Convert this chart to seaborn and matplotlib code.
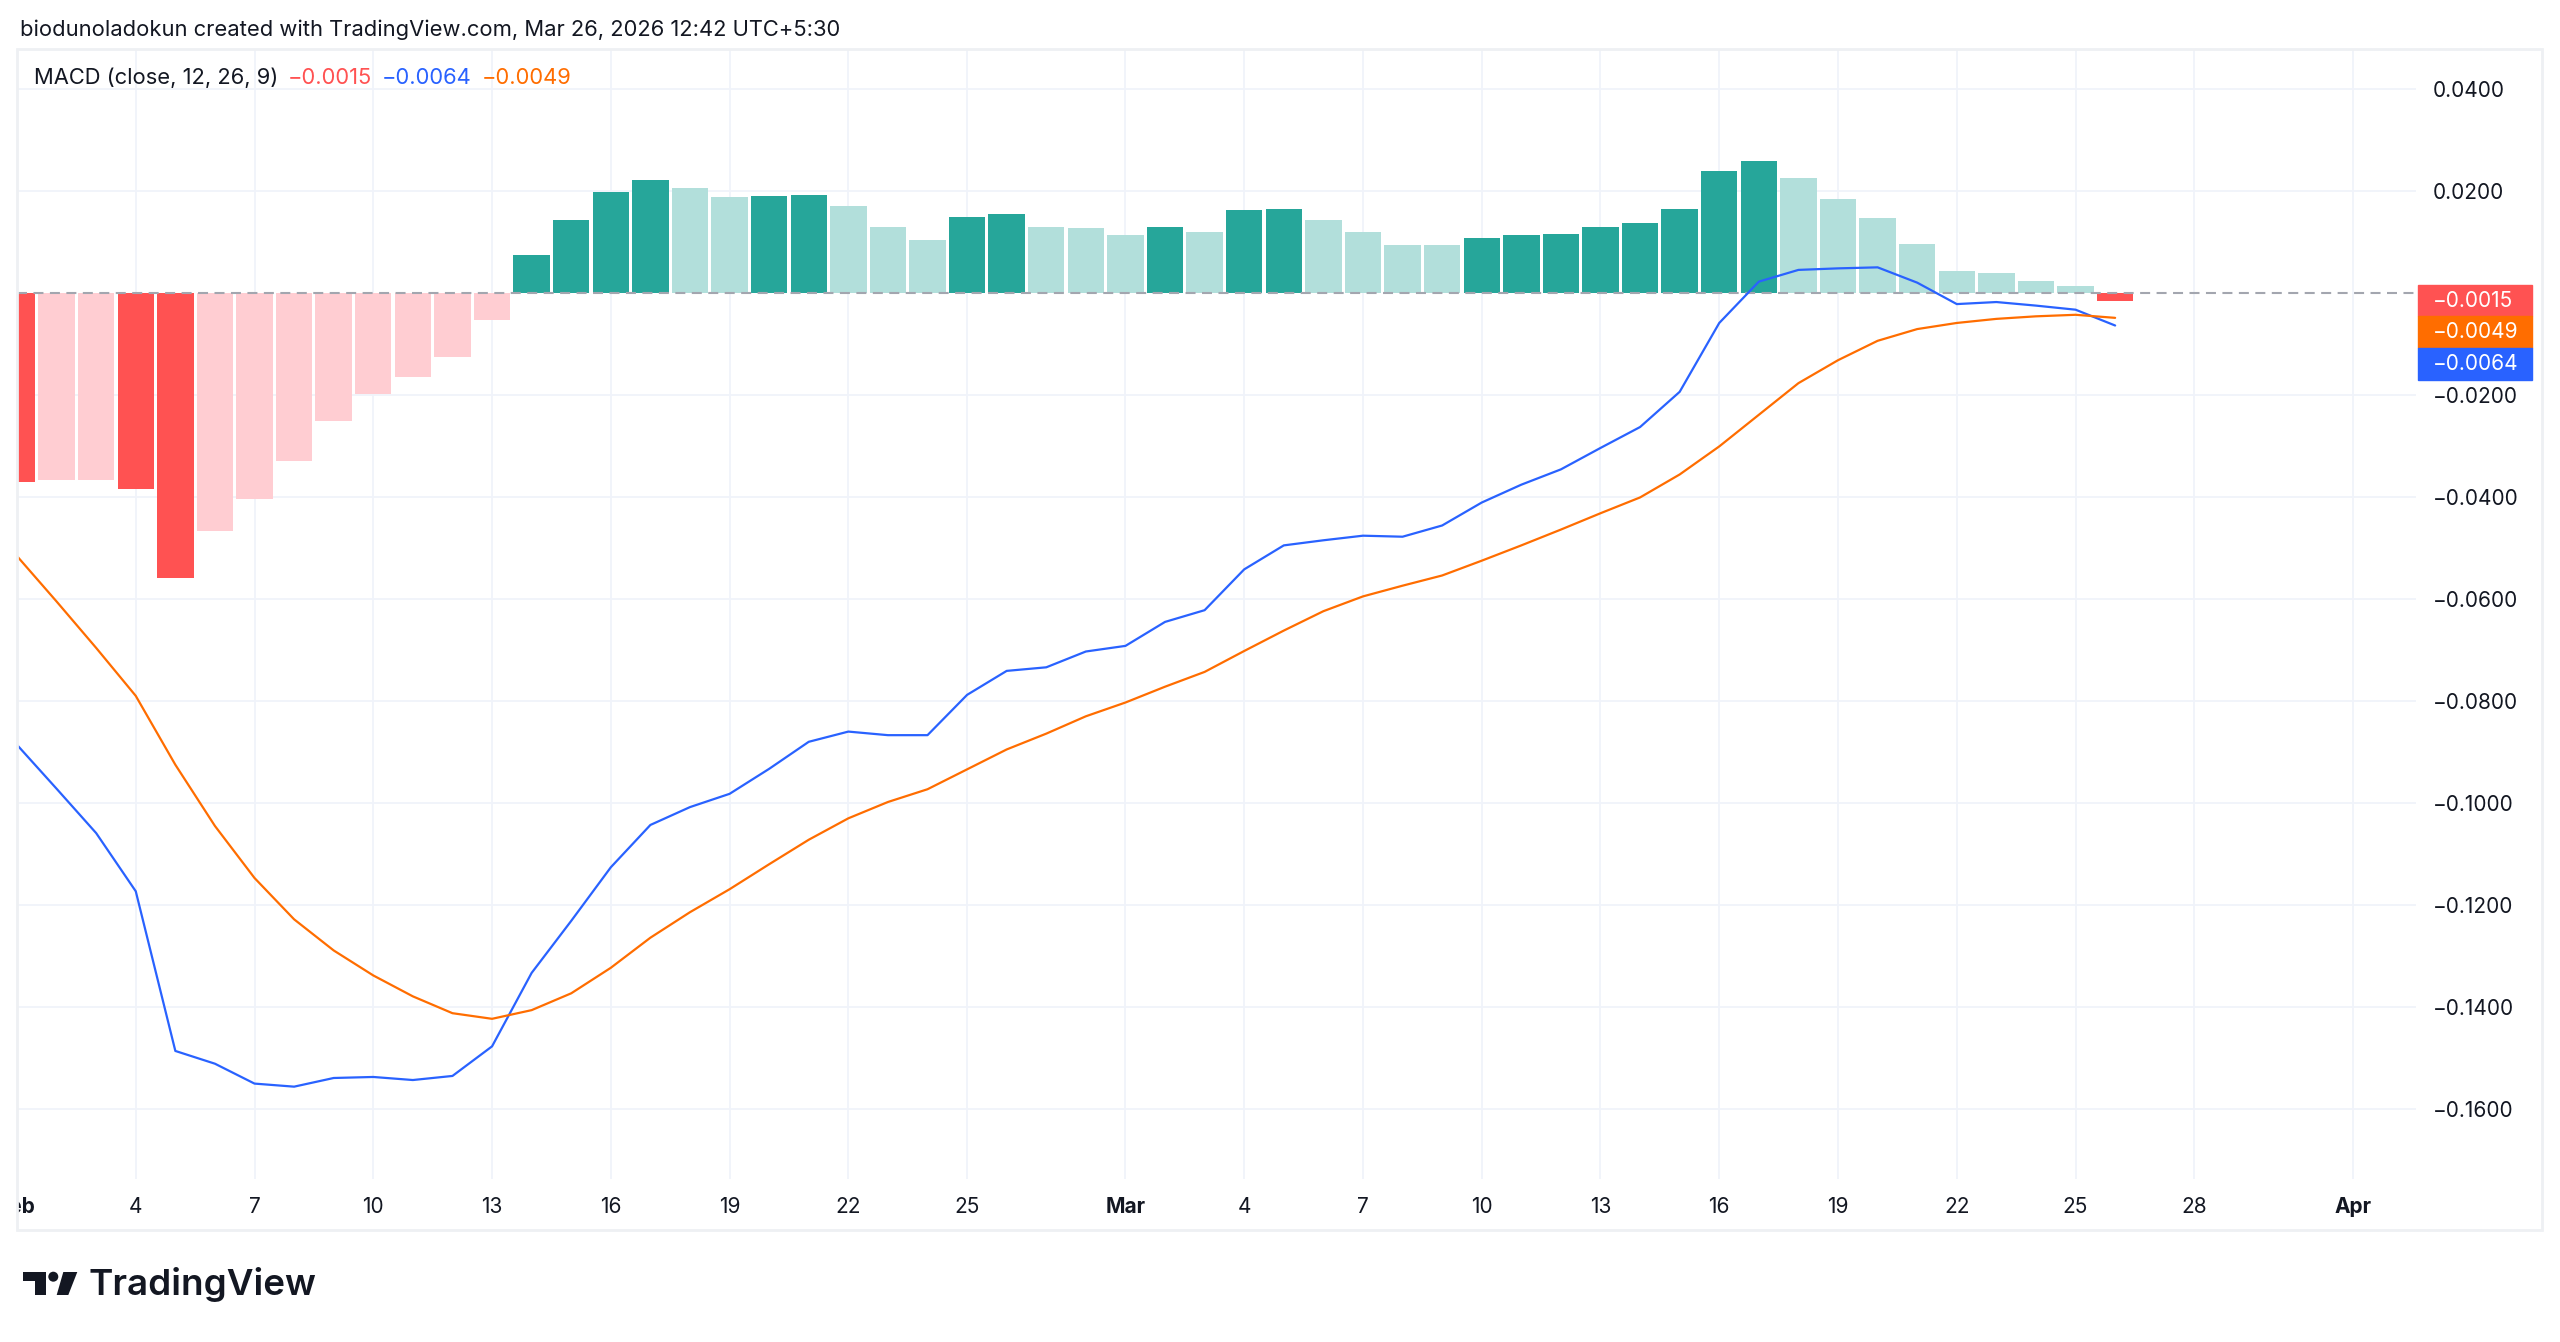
import numpy as np
import pandas as pd
import matplotlib
matplotlib.use('Agg')
import matplotlib.pyplot as plt
from matplotlib.patches import Rectangle, Ellipse, Polygon
from matplotlib.transforms import Bbox, TransformedBbox, blended_transform_factory
import seaborn as sns

# MACD (close, 12, 26, 9), daily, Feb 1 -> Mar 26 2026
dates = pd.date_range('2026-02-01', '2026-03-26', freq='D')

hist = [-0.0371, -0.0367, -0.0366, -0.0385, -0.0559, -0.0467, -0.0405, -0.0329, -0.0251, -0.0199,
        -0.0164, -0.0125, -0.0054,
        0.0075, 0.0142, 0.0197, 0.0222, 0.0206, 0.0187, 0.0190, 0.0191, 0.0171, 0.0130, 0.0104,
        0.0149, 0.0155, 0.0130, 0.0128,
        0.0113, 0.0129, 0.0120, 0.0162, 0.0165, 0.0142, 0.0120, 0.0094, 0.0093, 0.0107, 0.0113,
        0.0116, 0.0129,
        0.0137, 0.0165, 0.0238, 0.0258, 0.0225, 0.0184, 0.0147, 0.0095, 0.0043, 0.0039, 0.0024,
        0.0014, -0.0015]

macd = [-0.0886, -0.0972, -0.1059, -0.1173, -0.1486, -0.1511, -0.1550, -0.1556, -0.1539, -0.1537,
        -0.1543, -0.1535, -0.1477, -0.1333, -0.1231, -0.1126, -0.1043, -0.1008, -0.0982, -0.0933,
        -0.0880, -0.0860, -0.0867, -0.0867, -0.0788, -0.0741, -0.0734, -0.0703, -0.0692, -0.0645,
        -0.0622, -0.0542, -0.0495, -0.0485, -0.0476, -0.0478, -0.0456, -0.0411, -0.0376, -0.0346,
        -0.0304, -0.0263, -0.0194, -0.0059, 0.0022, 0.0045, 0.0048, 0.0050, 0.0020, -0.0022,
        -0.0018, -0.0025, -0.0033, -0.0064]

signal = [-0.0516, -0.0605, -0.0696, -0.0790, -0.0925, -0.1045, -0.1147, -0.1228, -0.1289, -0.1338,
          -0.1379, -0.1412, -0.1423, -0.1406, -0.1373, -0.1323, -0.1264, -0.1214, -0.1169, -0.1120,
          -0.1072, -0.1030, -0.0998, -0.0973, -0.0934, -0.0895, -0.0864, -0.0830, -0.0803, -0.0772,
          -0.0743, -0.0702, -0.0662, -0.0624, -0.0595, -0.0574, -0.0554, -0.0525, -0.0495, -0.0464,
          -0.0432, -0.0401, -0.0356, -0.0301, -0.0239, -0.0177, -0.0132, -0.0094, -0.0071, -0.0059,
          -0.0051, -0.0046, -0.0043, -0.0049]

tick_dates = ['2026-02-01', '2026-02-04', '2026-02-07', '2026-02-10', '2026-02-13', '2026-02-16',
              '2026-02-19', '2026-02-22', '2026-02-25', '2026-03-01', '2026-03-04', '2026-03-07',
              '2026-03-10', '2026-03-13', '2026-03-16', '2026-03-19', '2026-03-22', '2026-03-25',
              '2026-03-28', '2026-04-01']
tick_labels = ['Feb', '4', '7', '10', '13', '16', '19', '22', '25', 'Mar', '4', '7', '10', '13',
               '16', '19', '22', '25', '28', 'Apr']
y_ticks = [0.04, 0.02, -0.02, -0.04, -0.06, -0.08, -0.10, -0.12, -0.14, -0.16]

header = 'biodunoladokun created with TradingView.com, Mar 26, 2026 12:42 UTC+5:30'
study = 'MACD (close, 12, 26, 9)'

C_GROW_ABOVE, C_FALL_ABOVE = '#26A69A', '#B2DFDB'
C_GROW_BELOW, C_FALL_BELOW = '#FFCDD2', '#FF5252'
C_MACD, C_SIGNAL = '#2962FF', '#FF6D00'
TXT = '#131722'

sns.set_style('white')
plt.rcParams['font.family'] = ['Inter', 'DejaVu Sans']

df = pd.DataFrame({'date': dates, 'hist': hist, 'macd': macd, 'signal': signal})
df['day'] = (df['date'] - df['date'].iloc[0]).dt.days
prev = df['hist'].shift(1).fillna(0)
df['col'] = np.where(df['hist'] >= 0,
                     np.where(prev < df['hist'], 'grow_above', 'fall_above'),
                     np.where(prev < df['hist'], 'grow_below', 'fall_below'))
pal = {'grow_above': C_GROW_ABOVE, 'fall_above': C_FALL_ABOVE,
       'grow_below': C_GROW_BELOW, 'fall_below': C_FALL_BELOW}

W, H = 2560, 1342
fig = plt.figure(figsize=(W / 100, H / 100), dpi=100)
ax = fig.add_axes([17 / W, 1 - 1179 / H, 2399 / W, 1130 / H])

sns.barplot(data=df, x='day', y='hist', hue='col', palette=pal, dodge=False, native_scale=True,
            width=0.92, saturation=1, errorbar=None, legend=False, linewidth=0, ax=ax, zorder=2)
ax.axhline(0, color='#A3A6AF', lw=1.5, dashes=(4.8, 3.1), zorder=3)
sns.lineplot(data=df, x='day', y='macd', color=C_MACD, lw=1.6, ax=ax, zorder=4)
sns.lineplot(data=df, x='day', y='signal', color=C_SIGNAL, lw=1.6, ax=ax, zorder=4)

ax.set_xlim(0.05, 60.6)
ax.set_ylim(-0.1737, 0.0478)

tick_days = [(pd.Timestamp(t) - dates[0]).days for t in tick_dates]
ax.set_xticks(tick_days)
ax.set_xticklabels(tick_labels)
ax.yaxis.tick_right()
ax.set_yticks(y_ticks)
ax.set_yticklabels([f'{v:.4f}'.replace('-', '\u2212') for v in y_ticks])
ax.tick_params(axis='x', length=0, pad=13, labelsize=15, colors=TXT)
ax.tick_params(axis='y', length=0, pad=12, labelsize=15, colors=TXT)
ax.set_xlabel('')
ax.set_ylabel('')
ax.grid(True, color='#F0F3FA', lw=1.3, zorder=0)
for s in ax.spines.values():
    s.set_visible(False)

clip = TransformedBbox(Bbox([[0, -1], [1, 1]]), ax.transAxes)
for lab in ax.get_xticklabels():
    if lab.get_text() in ('Feb', 'Mar', 'Apr'):
        lab.set_fontweight('bold')
    if lab.get_text() == 'Feb':
        lab.set_clip_on(True)
        lab.set_clip_box(clip)

# last-value tags on the price scale
bt = blended_transform_factory(ax.transAxes, ax.transData)
box_h = 0.0062
last_vals = [(hist[-1], C_FALL_BELOW), (signal[-1], C_SIGNAL), (macd[-1], C_MACD)]
for i, (v, c) in enumerate(last_vals):
    yc = hist[-1] - i * box_h
    ax.add_patch(Rectangle((1.0008, yc - box_h / 2), 0.0476, box_h, transform=bt,
                           color=c, clip_on=False, zorder=5))
    ax.text(1.0071, yc, f'{v:.4f}'.replace('-', '\u2212'), transform=bt, color='white',
            fontsize=15, va='center', ha='left', clip_on=False, zorder=6)

# outer frame
fig.add_artist(Rectangle((17 / W, 1 - 1230 / H), 2525 / W, 1181 / H, transform=fig.transFigure,
                         fill=False, ec='#EEF0F3', lw=2))

fig.text(20 / W, 1 - 30 / H, header, fontsize=15.8, color=TXT, va='center', ha='left')
t0 = fig.text(34 / W, 1 - 78 / H, study, fontsize=15.8, color=TXT, va='center', ha='left')
prev_t = t0
for v, c in [(hist[-1], '#FF5252'), (macd[-1], C_MACD), (signal[-1], C_SIGNAL)]:
    prev_t = ax.annotate(f'{v:.4f}'.replace('-', '\u2212'), xy=(1, 0.5), xycoords=prev_t,
                         xytext=(7, 0), textcoords='offset points', fontsize=15.8, color=c,
                         va='center', ha='left', annotation_clip=False)

# TradingView logo
def fx(x):
    return x / W

def fy(y):
    return 1 - y / H

k = dict(transform=fig.transFigure, color='#131722', lw=0)
fig.add_artist(Rectangle((fx(23), fy(1281)), 23 / W, 9 / H, **k))
fig.add_artist(Rectangle((fx(35), fy(1295)), 11 / W, 23 / H, **k))
fig.add_artist(Ellipse((fx(53.3), fy(1276.7)), 10 / W, 10 / H, **k))
fig.add_artist(Polygon([(fx(63.3), fy(1272)), (fx(77.3), fy(1272)), (fx(68.3), fy(1295)),
                        (fx(56.7), fy(1295))], closed=True, **k))
fig.text(fx(89), fy(1295), 'TradingView', fontsize=26.5, fontweight='semibold', color='#131722',
         va='baseline', ha='left')

fig.savefig('out.png', dpi=100, facecolor='white')
